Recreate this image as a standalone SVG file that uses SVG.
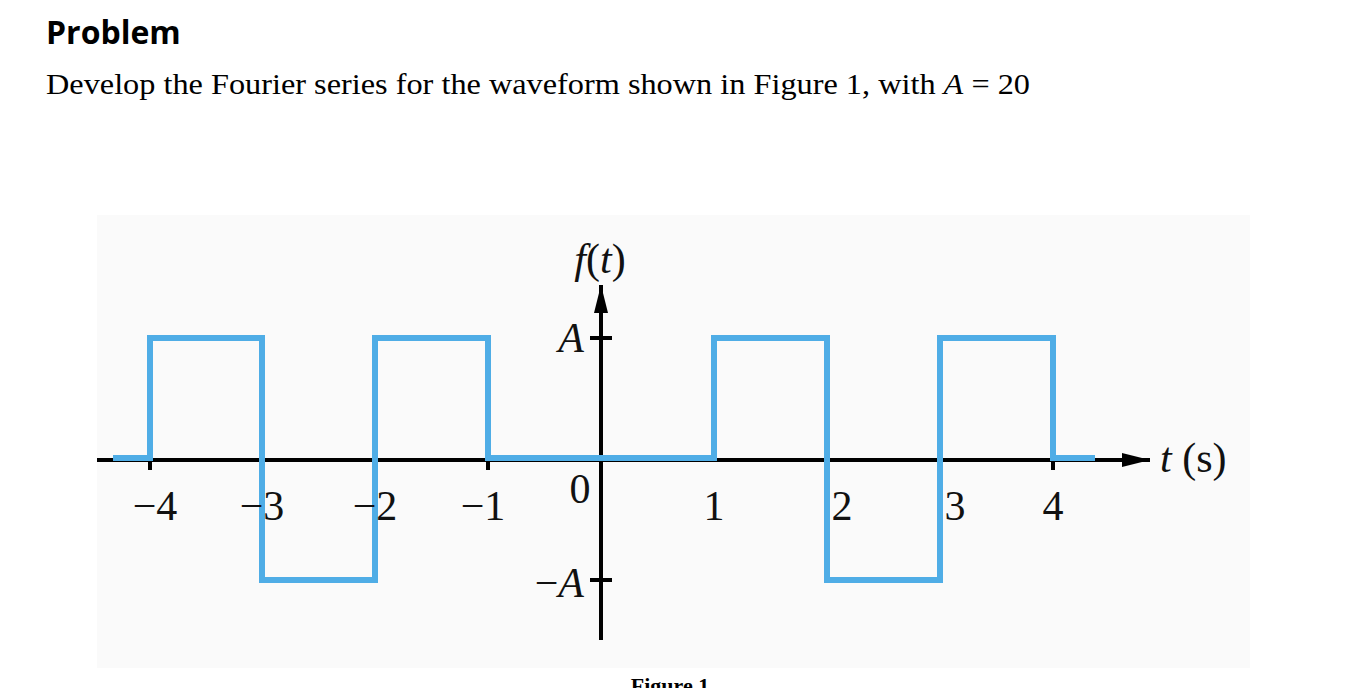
<svg xmlns="http://www.w3.org/2000/svg" width="1348" height="688" viewBox="0 0 1348 688">
<style>
.n{font-family:"Liberation Serif",serif;font-size:42px;fill:#111}
.i{font-style:italic}
.ax{stroke:#000;stroke-width:4;fill:none}
.w{stroke:#4FADE6;stroke-width:6;fill:none}
</style>
<defs>
<marker id="ah2" markerWidth="28" markerHeight="14" refX="28" refY="7" orient="auto" markerUnits="userSpaceOnUse"><path d="M0,0L28,7L0,14z" fill="#000"/></marker></defs>
<rect width="1348" height="688" fill="#fff"/>
<text x="46" y="44" font-family="Open Sans,sans-serif" font-weight="bold" font-size="32" fill="#000">Problem</text>
<text x="46" y="94" font-family="Liberation Serif,serif" font-size="30" fill="#000" textLength="984" lengthAdjust="spacingAndGlyphs">Develop the Fourier series for the waveform shown in Figure 1, with  <tspan font-style="italic">A</tspan> = 20</text>
<rect x="97" y="215" width="1153" height="453" fill="#fafafa"/>
<g id="axes">
<line class="ax" x1="97" y1="460" x2="1150" y2="460" marker-end="url(#ah2)"/>
<line class="ax" x1="601" y1="640" x2="601" y2="285" marker-end="url(#ah2)"/>
<path class="ax" d="M590,338H612M590,580H612M150,460V470M488,460V470M1053,460V470"/>
</g>
<g id="connectors"><path class="w" d="M113,458H150V338H262V580H375V338H488V458H714V338H827V580H940V338H1053V458H1095"/></g>
<g id="labels">
<text class="n" x="155" y="520" text-anchor="middle">−4</text>
<text class="n" x="262" y="520" text-anchor="middle">−3</text>
<text class="n" x="375" y="520" text-anchor="middle">−2</text>
<text class="n" x="483" y="520" text-anchor="middle">−1</text>
<text class="n" x="580" y="503" text-anchor="middle">0</text>
<text class="n" x="714" y="520" text-anchor="middle">1</text>
<text class="n" x="842" y="520" text-anchor="middle">2</text>
<text class="n" x="955" y="520" text-anchor="middle">3</text>
<text class="n" x="1053" y="520" text-anchor="middle">4</text>
<text class="n i" x="584" y="352" text-anchor="end">A</text>
<text class="n" x="584" y="597" text-anchor="end">−<tspan font-style="italic">A</tspan></text>
<text class="n" x="600" y="273" text-anchor="middle" font-size="46"><tspan font-style="italic">f</tspan>(<tspan font-style="italic">t</tspan>)</text>
<text class="n" x="1160" y="472" font-size="44"><tspan font-style="italic">t</tspan> (s)</text>
<text x="670" y="693" text-anchor="middle" font-family="Liberation Serif,serif" font-weight="bold" font-size="22">Figure 1</text>
</g>
</svg>
